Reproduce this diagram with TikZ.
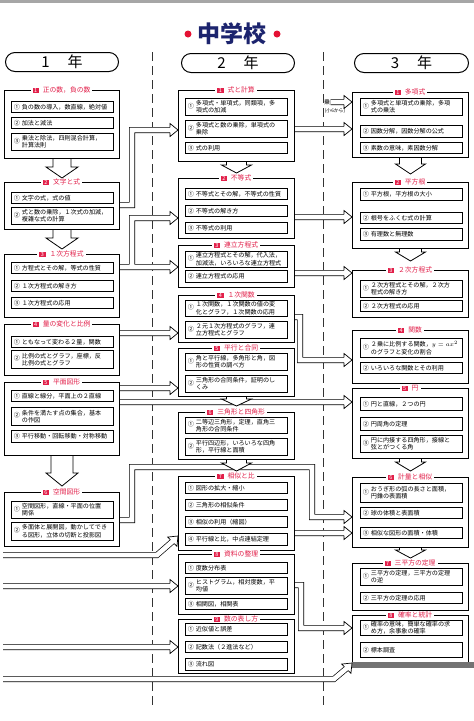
\documentclass[tikz,border=0pt]{standalone}
\usepackage{fontspec}
\setmainfont{Noto Sans CJK JP}
\usetikzlibrary{calc}
\definecolor{tred}{RGB}{226,32,74}
\definecolor{tblue}{RGB}{28,36,110}
\definecolor{dred}{RGB}{228,18,52}
\newcommand{\badge}[1]{{\setlength{\fboxsep}{0.6pt}\colorbox{tred}{\textcolor{white}{\makebox[5pt]{\fontsize{5.5}{6}\selectfont #1}}}}}
\newcommand{\ione}[2]{#1\hspace{2pt}#2}
\newcommand{\itwo}[3]{#1\hspace{2pt}\parbox[c]{88pt}{#2\\#3}}
\tikzset{
  obox/.style={draw, line width=1pt, fill=white, anchor=north west, inner sep=0pt},
  ibox/.style={draw, line width=0.6pt, anchor=north west, inner xsep=2.5pt, inner ysep=0pt, text width=97pt, align=left, font=\fontsize{6.1}{7.2}\selectfont},
  ttl/.style={fill=white, inner xsep=2pt, inner ysep=0.4pt, text=tred, font=\fontsize{6.8}{7.5}\selectfont},
  yearbox/.style={draw, line width=1pt, rounded corners=9.5pt, anchor=north west, minimum height=19pt, font=\fontsize{15}{15}\selectfont, inner sep=0pt},
  blk/.style={fill=white, draw, line width=0.8pt, line join=miter},
  chanout/.style={line width=6pt, line join=miter},
  chanin/.style={line width=4.6pt, white, line join=miter},
  divider/.style={line width=0.8pt, black!80, dash pattern=on 9pt off 5pt},
  lbl/.style={inner sep=0.5pt, fill=white},
}
\newcommand{\obx}[7]{%
  \fill[black!60] (#2+1.3,#3+1.3) rectangle (#2+#4+1.3,#3+#5+1.3);
  \node[obox, minimum width=#4pt, minimum height=#5pt] (#1) at (#2,#3) {};
  \node[ttl] (#1t) at (#2+#4/2,#3) {\badge{#6}\hspace{4pt}#7};}
\newcommand{\itm}[5]{\node[ibox, minimum height=#4pt] (#1) at (#2,#3) {#5};}
\newcommand{\varrow}[5]{%
  \filldraw[blk] let \p1=(#1.south) in
   (\x1-#4pt,\y1) -- (\x1-#4pt,\y1-#2pt+#3pt) -- (\x1-#5pt,\y1-#2pt+#3pt) -- (\x1,\y1-#2pt)
   -- (\x1+#5pt,\y1-#2pt+#3pt) -- (\x1+#4pt,\y1-#2pt+#3pt) -- (\x1+#4pt,\y1);}
\newcommand{\chead}[2]{%
  \begin{scope}[shift={(#1)}, rotate=#2]
   \filldraw[fill=white, line width=0.7pt, line join=miter] (-8pt,2.7pt) -- (-8pt,6.5pt) -- (0pt,0pt) -- (-8pt,-6.5pt) -- (-8pt,-2.7pt);
  \end{scope}}
\newcommand{\chanpaths}{
 (b12.east |- 0,205) -- (132,205) -- (132,130) -- ($(t21)+(-7,0)$)
 (b13.east |- 0,267) -- (132,267) -- (132,218) -- ($(t22)+(-7,0)$)
 (b13.east |- 0,267) -- ($(t23)+(-7,0)$)
 (b14.east |- 0,333) -- ($(t24)+(-7,0)$)
 (b15.east |- 0,388) -- ($(t25)+(-7,0)$)
 (b15.east |- 0,402) -- ($(t35)+(-7,0)$)
 (b16.east |- 0,520) -- (132,520) -- (132,467) -- (312,467) -- (312,517) -- ($(t36b)+(-7,0)$)
 (b27.east |- 0,533) -- ($(t36c)+(-7,0)$)
 (s27) -- (157,555) -- ($(t27)+(-5,5)$)
 (s28) -- ($(t28)+(-7,0)$)
 (s29) -- ($(t29)+(-7,0)$)
 (b28.east |- 0,585) -- (301,585) -- (301,628) -- ($(t38a)+(-7,0)$)
 (b24.east |- 0,317) -- (300,317) -- (300,360) -- ($(t34)+(-7,0)$)
 (b21.east |- 0,129) -- ($(t31b)+(-7,0)$)
 (lblA.east) -- ($(t31a)+(-7,0)$)
 (b22.east |- 0,217) -- ($(t32)+(-7,0)$)
 (b23.east |- 0,273) -- ($(t33)+(-7,0)$)
 (s38) -- (334,679) -- ($(t38d)+(-5,5)$)
}
\begin{document}
\begin{tikzpicture}[x=1pt,y=-1pt]
\useasboundingbox (0,0) rectangle (474,721);
\fill[white] (0,0) rectangle (474,721);
\fill[black!35] (0,0) rectangle (474,2.5);
% title
\node[font=\fontsize{23}{23}\selectfont\bfseries, text=tblue, inner sep=0pt] (title) at (232,34) {中学校};
\node[circle, fill=dred, minimum size=7pt, inner sep=0pt] (dotl) at (188,34) {};
\node[circle, fill=dred, minimum size=7pt, inner sep=0pt] (dotr) at (277,34) {};
% years
\node[yearbox, minimum width=113pt] (y1) at (5,52) {1\hspace{18pt}年};
\node[yearbox, minimum width=113pt] (y2) at (181,53) {2\hspace{18pt}年};
\node[yearbox, minimum width=114pt] (y3) at (354,53) {3\hspace{18pt}年};
% dividers
\draw[divider] (152,52) -- (152,705);
\draw[divider] (323,52) -- (323,705);
% ---------- column 1
\obx{b11}{4}{90}{115}{68}{1}{正の数，負の数}
\itm{b11a}{11}{101}{11}{\ione{①}{負の数の導入，数直線，絶対値}}
\itm{b11b}{11}{117}{11}{\ione{②}{加法と減法}}
\itm{b11c}{11}{133}{17}{\itwo{③}{乗法と除法，四則混合計算，}{計算法則}}
\obx{b12}{4}{182}{115}{47}{2}{文字と式}
\itm{b12a}{11}{192}{11}{\ione{①}{文字の式，式の値}}
\itm{b12b}{11}{207}{17}{\itwo{②}{式と数の乗除，１次式の加減，}{複雑な式の計算}}
\obx{b13}{4}{254}{115}{63}{3}{１次方程式}
\itm{b13a}{11}{262}{11}{\ione{①}{方程式とその解，等式の性質}}
\itm{b13b}{11}{280}{11}{\ione{②}{１次方程式の解き方}}
\itm{b13c}{11}{297}{11}{\ione{③}{１次方程式の応用}}
\obx{b14}{4}{324}{115}{51}{4}{量の変化と比例}
\itm{b14a}{11}{336}{11}{\ione{①}{ともなって変わる２量，関数}}
\itm{b14b}{11}{350}{18}{\itwo{②}{比例の式とグラフ，座標，反}{比例の式とグラフ}}
\obx{b15}{4}{382}{115}{73}{5}{平面図形}
\itm{b15a}{11}{390}{11}{\ione{①}{直線と線分，平面上の２直線}}
\itm{b15b}{11}{407}{18}{\itwo{②}{条件を満たす点の集合，基本}{の作図}}
\itm{b15c}{11}{430}{12}{\ione{③}{平行移動・回転移動・対称移動}}
\obx{b16}{4}{492}{115}{54}{6}{空間図形}
\itm{b16a}{11}{501}{17}{\itwo{①}{空間図形，直線・平面の位置}{関係}}
\itm{b16b}{11}{522}{18}{\itwo{②}{多面体と展開図，動かしてでき}{る図形，立体の切断と投影図}}
% ---------- column 2
\obx{b21}{178}{90}{116}{71}{1}{式と計算}
\itm{b21a}{185}{98}{17}{\itwo{①}{多項式・単項式，同類項，多}{項式の加減}}
\itm{b21b}{185}{120}{17}{\itwo{②}{多項式と数の乗除，単項式の}{乗除}}
\itm{b21c}{185}{142}{11}{\ione{③}{式の利用}}
\obx{b22}{178}{178}{116}{60}{2}{不等式}
\itm{b22a}{185}{188}{11}{\ione{①}{不等式とその解，不等式の性質}}
\itm{b22b}{185}{205}{11}{\ione{②}{不等式の解き方}}
\itm{b22c}{185}{222}{11}{\ione{③}{不等式の利用}}
\obx{b23}{178}{245}{116}{42}{3}{連立方程式}
\itm{b23a}{185}{251}{16}{\itwo{①}{連立方程式とその解，代入法，}{加減法，いろいろな連立方程式}}
\itm{b23b}{185}{270}{12}{\ione{②}{連立方程式の応用}}
\obx{b24}{178}{295}{116}{47}{4}{１次関数}
\itm{b24a}{185}{300}{16}{\itwo{①}{１次関数，１次関数の値の変}{化とグラフ，１次関数の応用}}
\itm{b24b}{185}{321}{17}{\itwo{②}{２元１次方程式のグラフ，連}{立方程式とグラフ}}
\obx{b25}{178}{348}{116}{48}{5}{平行と合同}
\itm{b25a}{185}{353}{17}{\itwo{①}{角と平行線，多角形と角，図}{形の性質の調べ方}}
\itm{b25b}{185}{375}{17}{\itwo{②}{三角形の合同条件，証明のし}{くみ}}
\obx{b26}{178}{412}{116}{47}{6}{三角形と四角形}
\itm{b26a}{185}{417}{16}{\itwo{①}{二等辺三角形，定理，直角三}{角形の合同条件}}
\itm{b26b}{185}{438}{17}{\itwo{②}{平行四辺形，いろいろな四角}{形，平行線と面積}}
\obx{b27}{178}{476}{116}{74}{7}{相似と比}
\itm{b27a}{185}{482}{11}{\ione{①}{図形の拡大・縮小}}
\itm{b27b}{185}{499}{11}{\ione{②}{三角形の相似条件}}
\itm{b27c}{185}{516}{11}{\ione{③}{相似の利用（縮図）}}
\itm{b27d}{185}{533}{12}{\ione{④}{平行線と比，中点連結定理}}
\obx{b28}{178}{554}{116}{60}{8}{資料の整理}
\itm{b28a}{185}{562}{11}{\ione{①}{度数分布表}}
\itm{b28b}{185}{577}{17}{\itwo{②}{ヒストグラム，相対度数，平}{均値}}
\itm{b28c}{185}{598}{11}{\ione{③}{相関図，相関表}}
\obx{b29}{178}{619}{116}{54}{9}{数の表し方}
\itm{b29a}{185}{623}{12}{\ione{①}{近似値と誤差}}
\itm{b29b}{185}{641}{11}{\ione{②}{記数法（２進法など）}}
\itm{b29c}{185}{658}{12}{\ione{③}{流れ図}}
% ---------- column 3
\obx{b31}{352}{92}{116}{65}{1}{多項式}
\itm{b31a}{360}{98}{17}{\itwo{①}{多項式と単項式の乗除，多項}{式の乗法}}
\itm{b31b}{360}{125}{12}{\ione{②}{因数分解，因数分解の公式}}
\itm{b31c}{360}{142}{11}{\ione{③}{素数の意味，素因数分解}}
\obx{b32}{352}{182}{116}{66}{2}{平方根}
\itm{b32a}{360}{188}{12}{\ione{①}{平方根，平方根の大小}}
\itm{b32b}{360}{212}{11}{\ione{②}{根号をふくむ式の計算}}
\itm{b32c}{360}{228}{12}{\ione{③}{有理数と無理数}}
\obx{b33}{352}{270}{116}{47}{3}{２次方程式}
\itm{b33a}{360}{280}{17}{\itwo{①}{２次方程式とその解，２次方}{程式の解き方}}
\itm{b33b}{360}{300}{11}{\ione{②}{２次方程式の応用}}
\obx{b34}{352}{330}{116}{53}{4}{関数}
\itm{b34a}{360}{338}{19}{\itwo{①}{２乗に比例する関数，$y=ax^2$}{のグラフと変化の割合}}
\itm{b34b}{360}{362}{11}{\ione{②}{いろいろな関数とその利用}}
\obx{b35}{352}{388}{116}{70}{5}{円}
\itm{b35a}{360}{397}{13}{\ione{①}{円と直線，２つの円}}
\itm{b35b}{360}{417}{13}{\ione{②}{円周角の定理}}
\itm{b35c}{360}{435}{17}{\itwo{③}{円に内接する四角形，接線と}{弦とがつくる角}}
\obx{b36}{352}{477}{116}{70}{6}{計量と相似}
\itm{b36a}{360}{483}{19}{\itwo{①}{おうぎ形の弧の長さと面積，}{円錐の表面積}}
\itm{b36b}{360}{507}{11}{\ione{②}{球の体積と表面積}}
\itm{b36c}{360}{527}{11}{\ione{③}{相似な図形の面積・体積}}
\obx{b37}{352}{563}{116}{47}{7}{三平方の定理}
\itm{b37a}{360}{568}{17}{\itwo{①}{三平方の定理，三平方の定理}{の逆}}
\itm{b37b}{360}{592}{11}{\ione{②}{三平方の定理の応用}}
\obx{b38}{352}{615}{116}{47}{8}{確率と統計}
\itm{b38a}{360}{620}{15}{\itwo{①}{確率の意味，簡単な確率の求}{め方，余事象の確率}}
\itm{b38b}{360}{642}{15}{\ione{②}{標本調査}}
\fill[black!55] (352,662) rectangle (474,667.5);
% labels
\node[lbl, font=\fontsize{6}{6}\selectfont] (lblA) at (327,102) {乗};
\node[lbl, font=\fontsize{4.8}{5}\selectfont] (lblB) at (335,111) {(小6から)};
% tips and free ends
\coordinate (t21) at (b21.west |- 0,130);
\coordinate (t22) at (b22.west |- 0,218);
\coordinate (t23) at (b23.west |- 0,267);
\coordinate (t24) at (b24.west |- 0,333);
\coordinate (t25) at (b25.west |- 0,388);
\coordinate (t27) at (b27.west |- 0,536);
\coordinate (t28) at (b28.west |- 0,586);
\coordinate (t29) at (b29.west |- 0,647);
\coordinate (t31a) at (b31.west |- 0,102);
\coordinate (t31b) at (b31.west |- 0,129);
\coordinate (t32) at (b32.west |- 0,217);
\coordinate (t33) at (b33.west |- 0,273);
\coordinate (t34) at (b34.west |- 0,360);
\coordinate (t35) at (b35.west |- 0,402);
\coordinate (t36b) at (b36.west |- 0,517);
\coordinate (t36c) at (b36.west |- 0,533);
\coordinate (t38a) at (b38.west |- 0,628);
\coordinate (t38d) at (b38.south west);
\coordinate (s27) at (3,555);
\coordinate (s28) at (3,586);
\coordinate (s29) at (3,647);
\coordinate (s38) at (3,679);
% channels
\draw[chanout] \chanpaths;
\draw[chanin] \chanpaths;
% block arrows
\varrow{b11}{19}{11}{9}{16}
\varrow{b12}{19}{11}{9}{16}
\varrow{b15}{30}{13}{11}{16}
\varrow{b21}{11}{8}{10}{15}
\varrow{b25}{9}{7}{10}{15}
\varrow{b26}{11}{8}{10}{15}
\varrow{b31}{16}{10}{11}{15}
\varrow{b32}{12}{9}{11}{15}
\varrow{b35}{12}{9}{11}{15}
\varrow{b36}{10}{8}{11}{15}
% heads
\chead{t21}{0}\chead{t22}{0}\chead{t23}{0}\chead{t24}{0}\chead{t25}{0}
\chead{t27}{45}\chead{t28}{0}\chead{t29}{0}
\chead{t31a}{0}\chead{t31b}{0}\chead{t32}{0}\chead{t33}{0}\chead{t34}{0}
\chead{t35}{0}\chead{t36b}{0}\chead{t36c}{0}\chead{t38a}{0}\chead{t38d}{45}
\end{tikzpicture}
\end{document}
